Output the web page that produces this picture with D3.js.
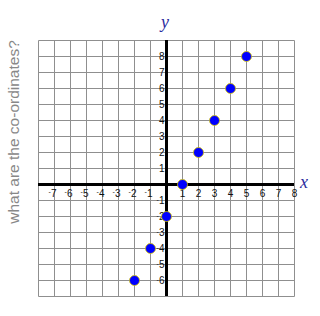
<!DOCTYPE html>
<html>
<head>
<meta charset="utf-8">
<script src="https://cdn.jsdelivr.net/npm/d3@7"></script>
<style>
html,body{margin:0;padding:0;background:#fff;}
svg{display:block;}
</style>
</head>
<body>
<svg id="chart" width="320" height="316"></svg>
<script>
const xTicks = [-7,-6,-5,-4,-3,-2,-1,1,2,3,4,5,6,7,8];
const yTicks = [-6,-5,-4,-3,-2,-1,1,2,3,4,5,6,7,8];
const pointX = [-2,-1,0,1,2,3,4,5];
const pointY = [-6,-4,-2,0,2,4,6,8];
const xDomain = [-8,8];
const yDomain = [-7,9];
const sideText = "what are the co-ordinates?";

const svg = d3.select("#chart");
const x = d3.scaleLinear().domain(xDomain).range([38,294]);
const y = d3.scaleLinear().domain(yDomain).range([296,40]);

const grid = svg.append("g").attr("transform","translate(0.5,0.5)");
grid.selectAll("line.v").data(d3.range(xDomain[0], xDomain[1]+1)).join("line")
  .attr("x1",d=>x(d)).attr("x2",d=>x(d)).attr("y1",y(yDomain[1])).attr("y2",y(yDomain[0]))
  .attr("stroke","#8f8f8f").attr("stroke-width",1);
grid.selectAll("line.h").data(d3.range(yDomain[0], yDomain[1]+1)).join("line")
  .attr("y1",d=>y(d)).attr("y2",d=>y(d)).attr("x1",x(xDomain[0])).attr("x2",x(xDomain[1]))
  .attr("stroke","#8f8f8f").attr("stroke-width",1);

// axes
svg.append("line").attr("x1",x(xDomain[0])).attr("x2",x(xDomain[1])).attr("y1",y(0)+0.5).attr("y2",y(0)+0.5)
  .attr("stroke","#000").attr("stroke-width",3);
svg.append("line").attr("y1",y(yDomain[1])).attr("y2",y(yDomain[0])).attr("x1",x(0)+0.5).attr("x2",x(0)+0.5)
  .attr("stroke","#000").attr("stroke-width",3);

function label(sel, d){
  if(d<0){
    sel.append("tspan").attr("font-size","7px").attr("dy","-2.5").text("-");
    sel.append("tspan").attr("dy","2.5").text(Math.abs(d));
  } else sel.text(d);
}

// x tick labels
const xl = svg.append("g").attr("font-family","Arial, 'Liberation Sans', sans-serif").attr("font-size","10px").attr("fill","#111");
xTicks.forEach(d=>{
  const t = xl.append("text").attr("x", x(d)+ (d<0?-1.5:0.5)).attr("y", y(0)+12.5).attr("text-anchor","middle");
  label(t,d);
});
// y tick labels
yTicks.forEach(d=>{
  const t = xl.append("text").attr("x", x(0)-1.5).attr("y", y(d)+4).attr("text-anchor","end");
  label(t,d);
});

// axis names
svg.append("text").attr("x",x(0)-1).attr("y",28).attr("text-anchor","middle")
  .attr("font-family","'Liberation Serif','DejaVu Serif',serif").attr("font-style","italic").attr("font-size","18px")
  .attr("fill","#2b2b9e").text("y");
svg.append("text").attr("x",x(xDomain[1])+10).attr("y",y(0)+4).attr("text-anchor","middle")
  .attr("font-family","'Liberation Serif','DejaVu Serif',serif").attr("font-style","italic").attr("font-size","18px")
  .attr("fill","#2b2b9e").text("x");

// points
svg.append("g").selectAll("circle").data(pointX.map((d,i)=>({x:d,y:pointY[i]}))).join("circle")
  .attr("cx",d=>x(d.x)+0.5).attr("cy",d=>y(d.y)+0.5).attr("r",5)
  .attr("fill","#0000ff").attr("stroke","#d8c800").attr("stroke-width",0.8);

// side text
svg.append("text").attr("transform","translate(19,132) rotate(-90)").attr("text-anchor","middle")
  .attr("font-family","Arial, 'Liberation Sans', sans-serif").attr("font-size","15.5px").attr("fill","#888")
  .text(sideText);
</script>
</body>
</html>
